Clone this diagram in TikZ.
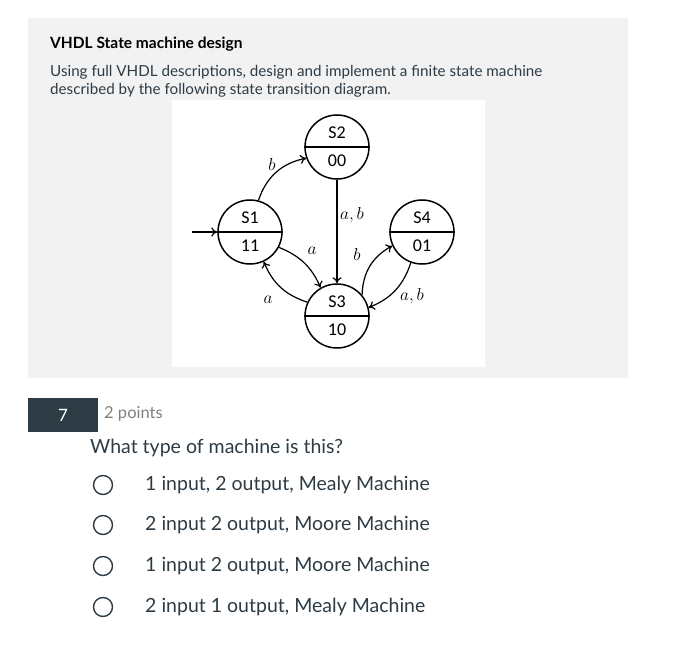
\documentclass[tikz,border=0pt]{standalone}
\usepackage{fontspec}
\setmainfont{Lato}
\newfontfamily\carlitofont{Carlito}
\usetikzlibrary{arrows.meta}
\definecolor{panel}{HTML}{F2F2F2}
\definecolor{dark}{HTML}{2D3B45}
\definecolor{txt}{HTML}{2D3B45}
\begin{document}
\begin{tikzpicture}[x=1pt,y=-1pt,
  st/.style={draw,circle,line width=1.5pt,minimum size=64pt,inner sep=0pt},
  tr/.style={-{To[length=6pt,width=9pt]},line width=1.2pt},
  lab/.style={font=\fontsize{16}{16}\selectfont,inner sep=0pt},
  body/.style={anchor=west,text=txt,font=\fontsize{19.5}{20}\selectfont},
  opt/.style={circle,draw=txt,line width=1.4pt,minimum size=19pt,inner sep=0pt}]
\useasboundingbox (0,0) rectangle (682,647);
\fill[panel] (28,18) rectangle (628,378);
\fill[white] (172,100) rectangle (485,367);
\node[anchor=west,inner sep=0pt,font=\bfseries\fontsize{15.5}{16}\selectfont] (title) at (50,44) {VHDL State machine design};
\node[anchor=north west,align=left,inner sep=0pt,font=\fontsize{15.2}{18}\selectfont,text=txt] (desc) at (50,65)
 {Using full VHDL descriptions, design and implement a finite state machine\\described by the following state transition diagram.};
% states
\foreach \n/\x/\y/\a/\b in {s2/337/147/S2/00,s1/250/232/S1/11,s4/422/232/S4/01,s3/337/316/S3/10}{
  \node[st] (\n) at (\x,\y) {};
  \draw[line width=1.5pt] (\n.west) -- (\n.east);
  \node[font=\carlitofont\fontsize{18}{18}\selectfont] (\n t) at (\x,\y-14) {\a};
  \node[font=\carlitofont\fontsize{18}{18}\selectfont] (\n b) at (\x,\y+14) {\b};
}
\coordinate (init) at (192,232);
\draw[tr] (init) -- (s1.west);
\draw[tr] (s1.75) to[bend left=30] (s2.200);
\node[lab] (lb1) at (272,165) {$b$};
\draw[tr] (s2.south) -- (s3.north);
\node[lab] (lab2) at (352,215) {$a,b$};
\draw[tr] (s1.-28) to[bend left=22] (s3.120);
\node[lab] (la1) at (312,251) {$a$};
\draw[tr] (s3.155) to[bend left=25] (s1.-65);
\node[lab] (la2) at (268,300) {$a$};
\draw[tr] (s3.40) to[bend left=30] (s4.205);
\node[lab] (lb2) at (357,254) {$b$};
\draw[tr] (s4.-110) to[bend left=25] (s3.15);
\node[lab] (lab3) at (412,296) {$a,b$};
% question
\fill[dark] (28,398) rectangle (98,432);
\node[text=white,font=\fontsize{17}{17}\selectfont] (num) at (63,415) {7};
\node[anchor=west,inner sep=0pt,text=gray,font=\fontsize{16.5}{17}\selectfont] (pts) at (104,414) {2 points};
\node[body,inner sep=0pt] (q) at (90,448) {What type of machine is this?};
\foreach \i/\y/\t in {1/485/{1 input, 2 output, Mealy Machine},2/525/{2 input 2 output, Moore Machine},3/566/{1 input 2 output, Moore Machine},4/607/{2 input 1 output, Mealy Machine}}{
  \node[opt] (o\i) at (103,\y) {};
  \node[body,inner sep=0pt] (t\i) at (145,\y) {\t};
}
\end{tikzpicture}
\end{document}
